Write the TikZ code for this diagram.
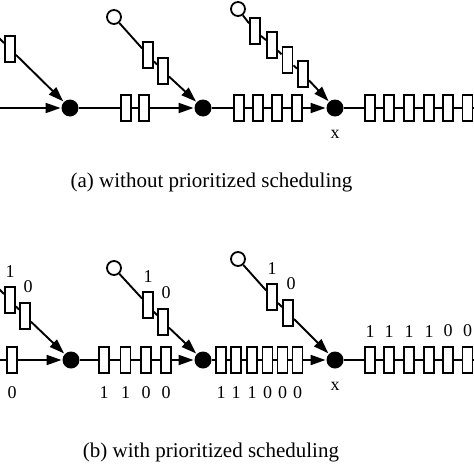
\documentclass[tikz,border=0pt]{standalone}
\usepackage{fontspec}
\setmainfont{Liberation Serif}
\usetikzlibrary{arrows.meta}
\tikzset{
  pkt/.style={draw,line width=1.9pt,minimum width=10pt,minimum height=26pt,inner sep=0pt,fill=white},
  sw/.style={circle,fill=black,minimum size=17pt,inner sep=0pt},
  src/.style={circle,draw,line width=1.8pt,minimum size=14pt,inner sep=0pt,fill=white},
  lbl/.style={font=\fontsize{18}{18}\selectfont,inner sep=0pt},
  captext/.style={font=\fontsize{21}{21}\selectfont,inner sep=0pt,anchor=base},
  bitbelow/.style={label={[lbl,label distance=12pt]below:#1}},
  bitabove/.style={label={[lbl,label distance=8pt]above:#1}},
  bitaboveR/.style={label={[lbl,label distance=8pt,xshift=3pt]above:#1}},
  xmark/.style={label={[lbl,label distance=12pt]below:x}},
  flow/.style={-{Triangle[length=15pt,width=10pt]}}
}

\begin{document}
\begin{tikzpicture}[x=1pt,y=-1pt,line width=1.9pt]
\useasboundingbox (0,0) rectangle (474,474);
\clip (0,0) rectangle (474,474);

\node[sw] (ja1) at (70,108) {};
\node[sw] (ja2) at (203,108) {};
\node[sw,xmark] (ja3) at (335,108) {};
\coordinate (ain) at (0,108);
\coordinate (aout) at (490,108);
\draw[flow] (ain) -- (ja1);
\foreach \x [count=\i] in {126,144} \node[pkt] (am\i) at (\x,108) {};
\foreach \x [count=\i] in {239,258,277,297} \node[pkt] (an\i) at (\x,108) {};
\foreach \x [count=\i] in {370,389,409,429,448,467.5} \node[pkt] (ao\i) at (\x,108) {};
\draw (ja1) -- (am1) -- (am2);
\draw[flow] (am2) -- (ja2);
\draw (ja2) -- (an1) -- (an2) -- (an3) -- (an4);
\draw[flow] (an4) -- (ja3);
\draw (ja3) -- (ao1) -- (ao2) -- (ao3) -- (ao4) -- (ao5) -- (ao6) -- (aout);

\coordinate (ap0) at (-20,19);
\node[pkt] (ap1) at (10,49) {};
\draw (ap0) -- (ap1);
\draw[flow] (ap1) -- (ja1);
	\node[src] (aq0) at (114,17) {};
	\node[pkt] (aq1) at (148,55) {};
	\node[pkt] (aq2) at (163,71) {};
	\draw (aq0) -- (aq1) -- (aq2);
	\draw[flow] (aq2) -- (ja2);
		\node[src] (ar0) at (238,9) {};
		\node[pkt] (ar1) at (255,31) {};
		\node[pkt] (ar2) at (272,45) {};
		\node[pkt] (ar3) at (287.5,60) {};
		\node[pkt] (ar4) at (303,74) {};
		\draw (ar0) -- (ar1) -- (ar2) -- (ar3) -- (ar4);
		\draw[flow] (ar4) -- (ja3);

\node[captext] (capa) at (211.5,187) {(a) without prioritized scheduling};

\node[sw] (jb1) at (71,360) {};
\node[sw] (jb2) at (203,360) {};
\node[sw,xmark] (jb3) at (335,360) {};
\coordinate (bin) at (0,360);
\coordinate (bout) at (490,360);
\node[pkt,bitbelow=0] (bm0) at (12,360) {};
\draw (bin) -- (bm0);
\draw[flow] (bm0) -- (jb1);
\foreach \x/\b [count=\i] in {104/1,125.5/1,146/0,166/0} \node[pkt,bitbelow=\b] (bm\i) at (\x,360) {};
\foreach \x/\b [count=\i] in {221/1,236/1,252/1,267.5/0,282.5/0,297.5/0} \node[pkt,bitbelow=\b] (bn\i) at (\x,360) {};
\foreach \x/\b [count=\i] in {370/1,389/1,409/1,429/1,448/0,467.5/0} \node[pkt,bitabove=\b] (bo\i) at (\x,360) {};
\draw (jb1) -- (bm1) -- (bm2) -- (bm3) -- (bm4);
\draw[flow] (bm4) -- (jb2);
\draw (jb2) -- (bn1) -- (bn2) -- (bn3) -- (bn4) -- (bn5) -- (bn6);
\draw[flow] (bn6) -- (jb3);
\draw (jb3) -- (bo1) -- (bo2) -- (bo3) -- (bo4) -- (bo5) -- (bo6) -- (bout);

\coordinate (bp0) at (-20,270);
\node[pkt,bitabove=1] (bp1) at (10,300) {};
\node[pkt,bitaboveR=0] (bp2) at (25,316) {};
\draw (bp0) -- (bp1) -- (bp2);
\draw[flow] (bp2) -- (jb1);
	\node[src] (bq0) at (114,268) {};
	\node[pkt,bitabove=1] (bq1) at (148,305) {};
	\node[pkt,bitaboveR=0] (bq2) at (163,322) {};
	\draw (bq0) -- (bq1) -- (bq2);
	\draw[flow] (bq2) -- (jb2);
		\node[src] (br0) at (238,259) {};
		\node[pkt,bitabove=1] (br1) at (272,297) {};
		\node[pkt,bitaboveR=0] (br2) at (288,313) {};
		\draw (br0) -- (br1) -- (br2);
		\draw[flow] (br2) -- (jb3);

\node[captext] (capb) at (211,457.5) {(b) with prioritized scheduling};
\end{tikzpicture}
\end{document}
